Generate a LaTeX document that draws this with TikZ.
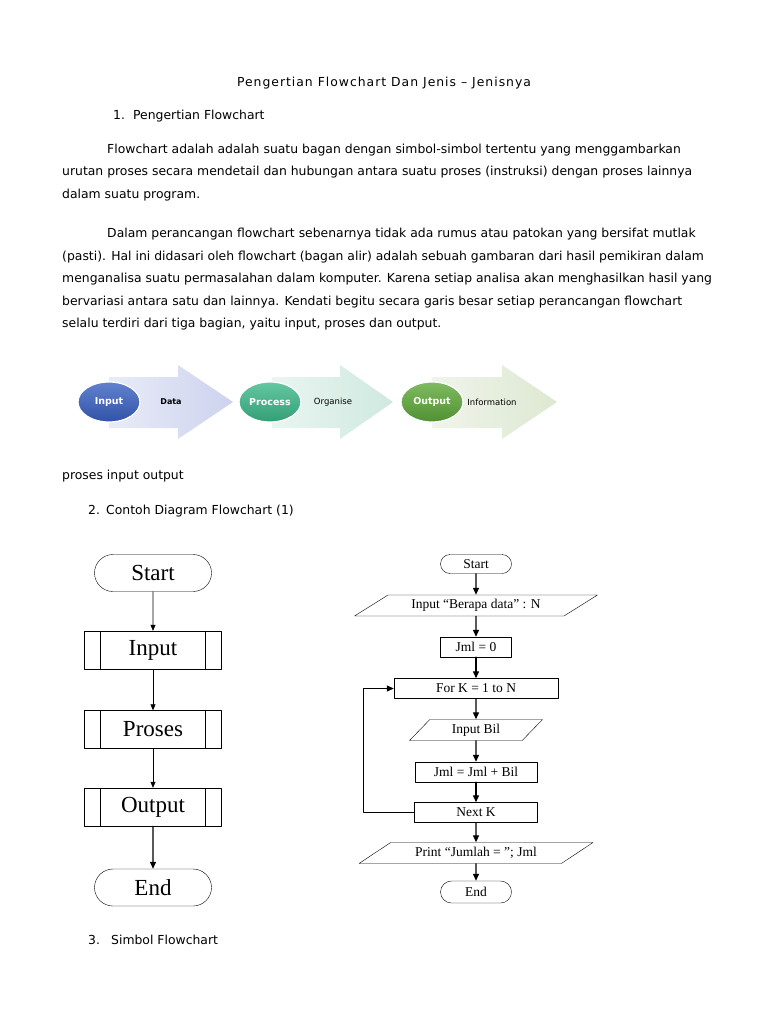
\documentclass[tikz,border=0pt]{standalone}
\usepackage{fontspec}
\setmainfont{Liberation Serif}
\newfontfamily\handfont{DejaVu Sans}
\newfontfamily\boxfont{DejaVu Sans}
\usetikzlibrary{arrows.meta,shapes.misc,shapes.geometric,positioning}
\definecolor{inblue}{HTML}{3A62C3}
\definecolor{prgreen}{HTML}{3DBA8B}
\definecolor{outgreen}{HTML}{5FAA3A}
\definecolor{arrblue}{HTML}{CDD3EE}
\definecolor{arrmint}{HTML}{CFE9DF}
\definecolor{arrsage}{HTML}{DDE8D2}

\begin{document}
\begin{tikzpicture}[x=1pt,y=-1pt,line cap=round,line join=round,
  txtline/.style={anchor=base west,inner sep=0pt,font=\handfont\fontsize{12.4}{14}\selectfont},
  blob/.style={ellipse,draw=white,line width=1.2pt,minimum width=62pt,minimum height=40pt,inner sep=0pt,
    top color=#1!80!white,bottom color=#1!85!black,text=white,font=\boxfont\bfseries\fontsize{9.5}{11}\selectfont},
  tag/.style={inner sep=0pt,font=\boxfont\fontsize{8.5}{10}\selectfont},
  bigterm/.style={draw,rounded rectangle,minimum width=119pt,minimum height=37pt,inner sep=1pt,font=\fontsize{23}{25}\selectfont},
  subproc/.style={draw,rectangle,minimum width=137pt,minimum height=38pt,inner sep=1pt,font=\fontsize{23}{25}\selectfont,
    path picture={\draw ([xshift=16pt]path picture bounding box.north west) -- ([xshift=16pt]path picture bounding box.south west)
      ([xshift=-16pt]path picture bounding box.north east) -- ([xshift=-16pt]path picture bounding box.south east);}},
  smallterm/.style={draw,rounded rectangle,minimum width=73pt,minimum height=19pt,inner sep=1pt,font=\fontsize{13.5}{14}\selectfont},
  procbox/.style={draw,rectangle,minimum height=20pt,inner sep=1pt,font=\fontsize{13.5}{14}\selectfont},
  iobox/.style={draw,trapezium,trapezium stretches body,minimum height=21pt,inner sep=1pt,font=\fontsize{13.5}{14}\selectfont},
  thinarr/.style={-{Triangle[length=6pt,width=5pt]},line width=0.6pt},
  thickarr/.style={-{Triangle[length=7pt,width=6pt]},line width=1.3pt}]
\useasboundingbox (0,0) rectangle (768,1024);

% text of the page
\node[anchor=base,inner sep=0pt,font=\handfont\fontsize{12.4}{14}\selectfont\addfontfeatures{LetterSpace=8}] (title) at (384,87) {Pengertian Flowchart Dan Jenis – Jenisnya};
\node[txtline] (num1) at (113,120) {1.};
\node[txtline] (head1) at (133,120) {Pengertian Flowchart};
\node[txtline] (pa1) at (107,154) {Flowchart adalah adalah suatu bagan dengan simbol-simbol tertentu yang menggambarkan};
\node[txtline] (pa2) at (62,176) {urutan proses secara mendetail dan hubungan antara suatu proses (instruksi) dengan proses lainnya};
\node[txtline] (pa3) at (62,199) {dalam suatu program.};
\node[txtline] (pb1) at (107,237) {Dalam perancangan flowchart sebenarnya tidak ada rumus atau patokan yang bersifat mutlak};
\node[txtline] (pb2) at (62,260) {(pasti). Hal ini didasari oleh flowchart (bagan alir) adalah sebuah gambaran dari hasil pemikiran dalam};
\node[txtline] (pb3) at (62,282) {menganalisa suatu permasalahan dalam komputer. Karena setiap analisa akan menghasilkan hasil yang};
\node[txtline] (pb4) at (62,305) {bervariasi antara satu dan lainnya. Kendati begitu secara garis besar setiap perancangan flowchart};
\node[txtline] (pb5) at (62,327) {selalu terdiri dari tiga bagian, yaitu input, proses dan output.};
\node[txtline] (cap) at (62,479) {proses input output};
\node[txtline] (num2) at (88,514) {2.};
\node[txtline] (head2) at (106,514) {Contoh Diagram Flowchart (1)};
\node[txtline] (num3) at (88,944) {3.};
\node[txtline] (head3) at (111,944) {Simbol Flowchart};

% input - process - output arrows
\shade[left color=arrblue!45,right color=arrblue] (109,377) -- (178,377) -- (178,365) -- (233,402) -- (178,439) -- (178,428) -- (109,428) -- cycle;
\shade[left color=arrmint!45,right color=arrmint] (272,377) -- (340,377) -- (340,365) -- (393,402) -- (340,439) -- (340,428) -- (272,428) -- cycle;
\shade[left color=arrsage!45,right color=arrsage] (432,377) -- (502,377) -- (502,365) -- (557,402) -- (502,439) -- (502,428) -- (432,428) -- cycle;
\node[blob=inblue] (inp) at (109,402) {Input};
\node[blob=prgreen] (proc) at (270,402) {Process};
\node[blob=outgreen] (outp) at (432,402) {Output};
\node[tag,font=\boxfont\bfseries\fontsize{8}{10}\selectfont] (data) at (171,402) {Data};
\node[tag] (org) at (333,402) {Organise};
\node[tag] (info) at (492,402) {Information};

% flowchart left
\node[bigterm] (lstart) at (153,573) {Start};
\node[subproc] (linput) at (153,650) {Input};
\node[subproc] (lproses) at (153,729.5) {Proses};
\node[subproc] (loutput) at (153,807) {Output};
\node[bigterm] (lend) at (153,887.5) {End};
\draw[thinarr] (lstart) -- (linput);
\draw[thinarr] (linput) -- (lproses);
\draw[thinarr] (lproses) -- (loutput);
\draw[thickarr] (loutput) -- (lend);

% flowchart right
\node[smallterm] (rstart) at (476,564) {Start};
\node[iobox,trapezium left angle=23,trapezium right angle=157,minimum width=243pt] (rin) at (476,605.5) {Input “Berapa data” : N};
\node[procbox,minimum width=71pt] (jml) at (476,647) {Jml = 0};
\node[procbox,minimum width=164pt] (forloop) at (476,688.5) {For K = 1 to N};
\node[iobox,trapezium left angle=35,trapezium right angle=145,minimum width=133pt] (bil) at (476,730) {Input Bil};
\node[procbox,minimum width=122pt] (sum) at (476,772) {Jml = Jml + Bil};
\node[procbox,minimum width=123pt] (nextk) at (476,812.5) {Next K};
\node[iobox,trapezium left angle=23,trapezium right angle=157,minimum width=234pt] (print) at (476,853) {Print “Jumlah = ”; Jml};
\node[smallterm,minimum height=22pt] (rend) at (476,892) {End};
\draw[thickarr] (rstart) -- (rin);
\draw[thickarr] (rin) -- (jml);
\draw[thickarr] (jml) -- (forloop);
\draw[thickarr] (forloop) -- (bil);
\draw[thickarr] (bil) -- (sum);
\draw[thickarr] (sum) -- (nextk);
\draw[thickarr] (nextk) -- (print);
\draw[thickarr] (print) -- (rend);
\draw[-{Triangle[length=7pt,width=6pt]},line width=1pt] (nextk.west) -- ++(-51,0) |- (forloop.west);
\end{tikzpicture}
\end{document}
